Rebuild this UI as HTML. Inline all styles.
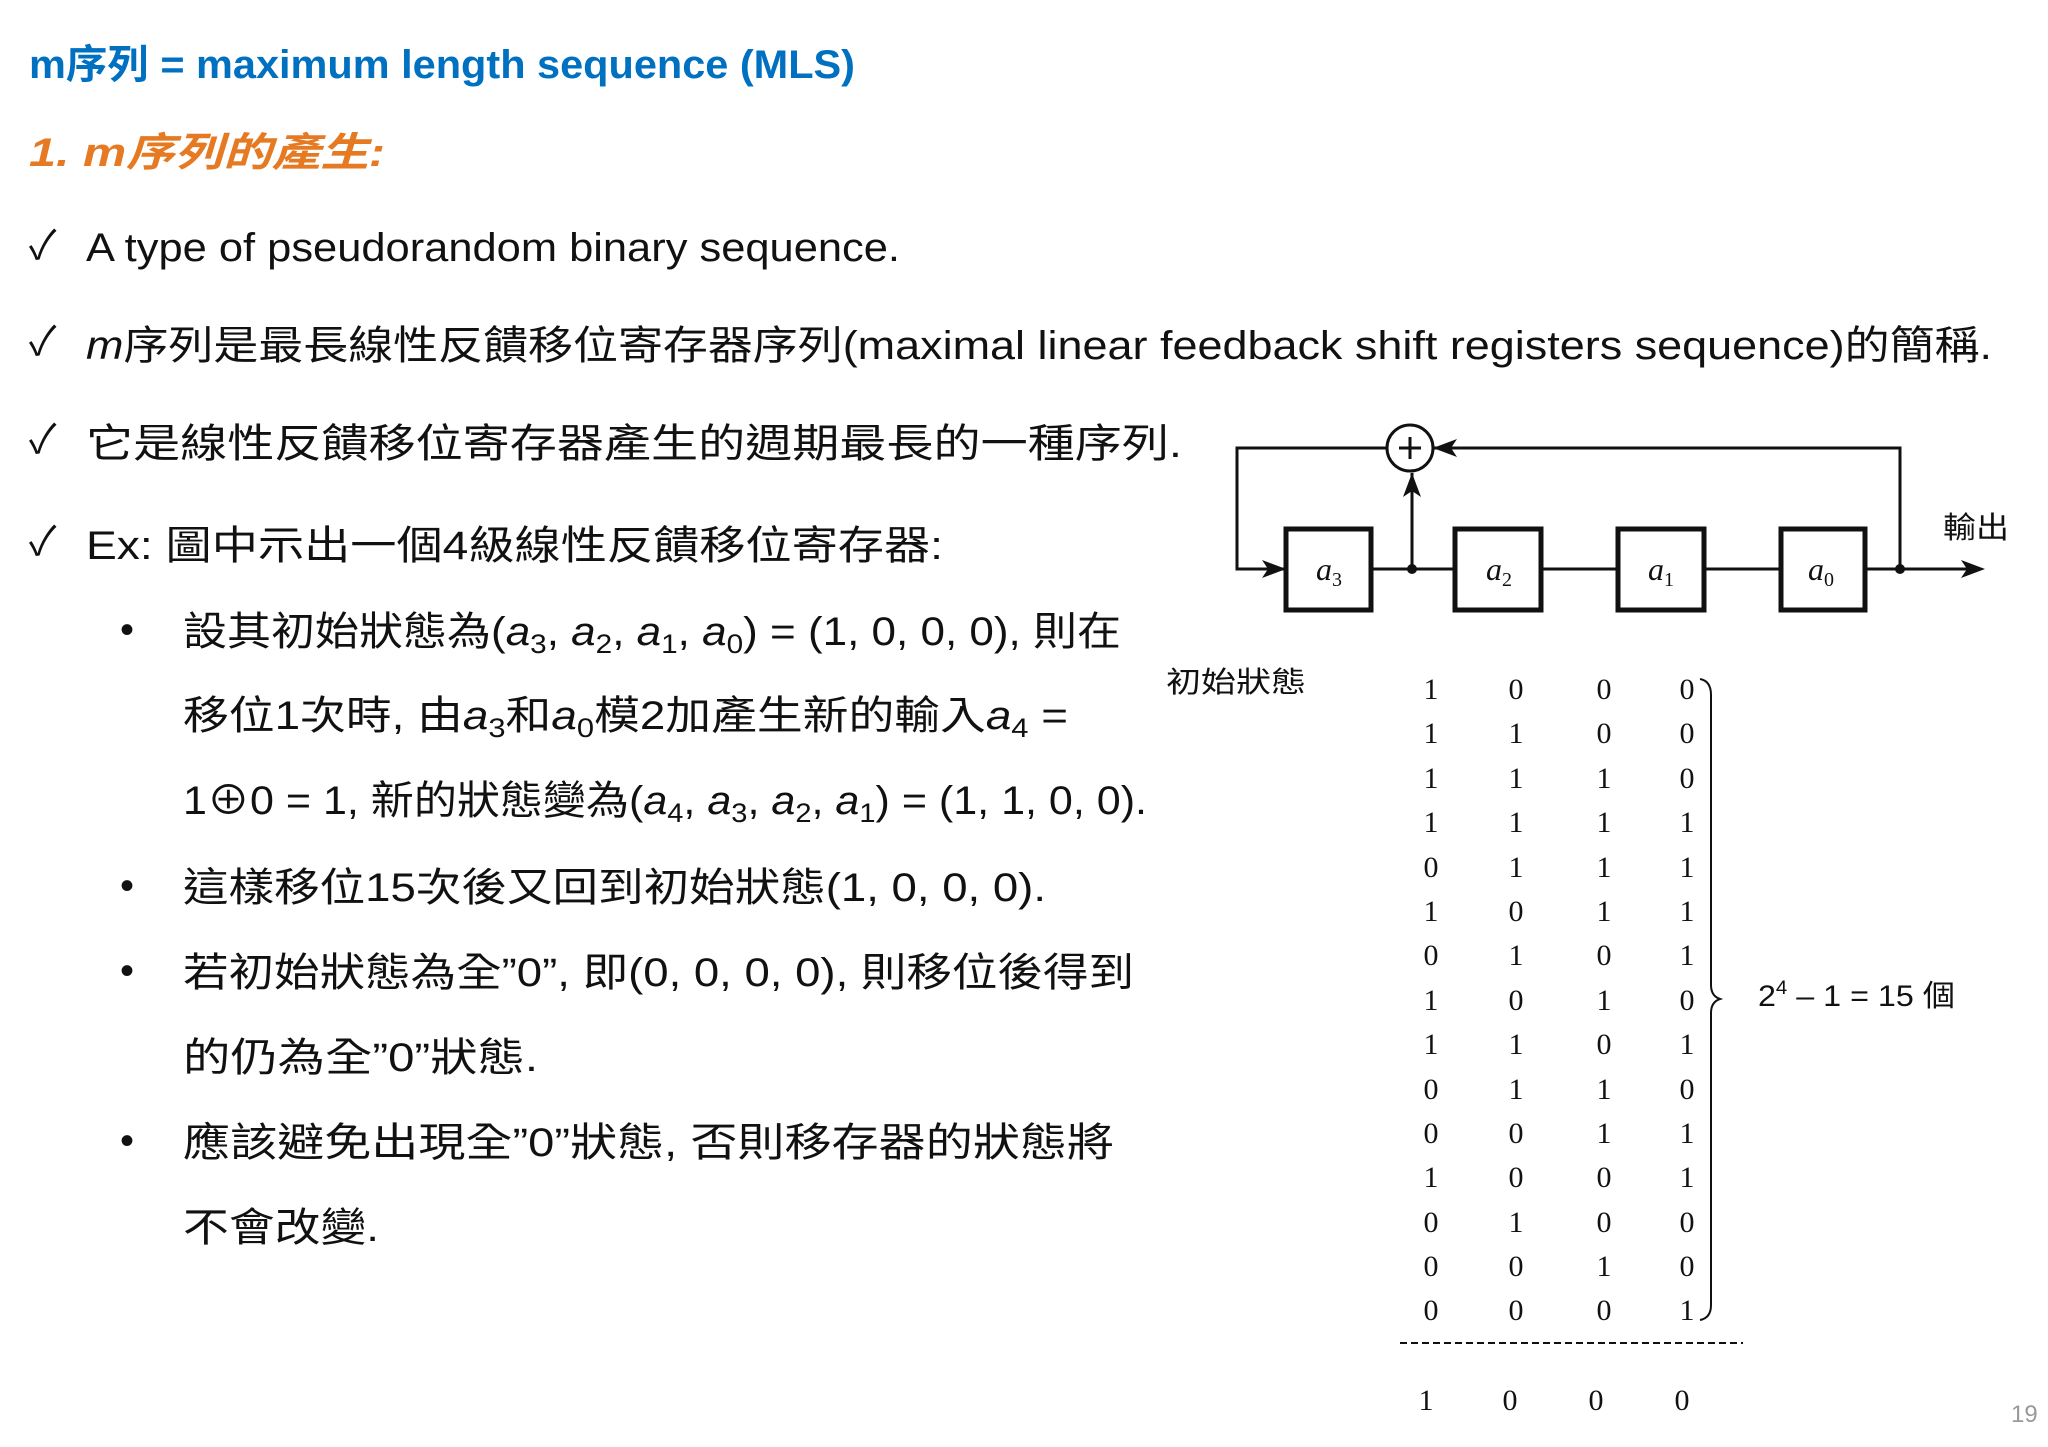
<!DOCTYPE html>
<html><head><meta charset="utf-8"><style>
html,body{margin:0;padding:0;background:#fff;}
svg{display:block}
.b{font-family:"Liberation Sans","Noto Sans CJK TC",sans-serif;font-size:40px;fill:#111}
.t{font-family:"Liberation Serif",serif;font-size:30px;fill:#111}
.i{font-style:italic}
</style></head><body>
<svg width="2048" height="1447" viewBox="0 0 2048 1447" xmlns="http://www.w3.org/2000/svg">
<rect width="2048" height="1447" fill="#fff"/>
<text x="29" y="78" class="b" style="fill:#0070c0;font-weight:bold" textLength="826" lengthAdjust="spacingAndGlyphs">m序列 = maximum length sequence (MLS)</text>
<text x="29" y="166" class="b" style="fill:#e67a22;font-weight:bold;font-style:italic" textLength="356" lengthAdjust="spacingAndGlyphs">1.  m序列的產生:</text>

<g class="b">
<text x="29" y="259">✓</text>
<text x="86" y="261" class="b" textLength="814" lengthAdjust="spacingAndGlyphs">A type of pseudorandom binary sequence.</text>
<text x="29" y="355">✓</text>
<text x="86" y="359" class="b" textLength="1906" lengthAdjust="spacingAndGlyphs"><tspan class="i">m</tspan>序列是最長線性反饋移位寄存器序列(maximal linear feedback shift registers sequence)的簡稱.</text>
<text x="29" y="453">✓</text>
<text x="86" y="457" class="b" textLength="1096" lengthAdjust="spacingAndGlyphs">它是線性反饋移位寄存器產生的週期最長的一種序列.</text>
<text x="29" y="555">✓</text>
<text x="86" y="559" class="b" textLength="857" lengthAdjust="spacingAndGlyphs">Ex: 圖中示出一個4級線性反饋移位寄存器:</text>

<text x="120" y="643">•</text>
<text x="183" y="645" class="b" textLength="938" lengthAdjust="spacingAndGlyphs">設其初始狀態為(<tspan class="i">a</tspan><tspan font-size="27" dy="8">3</tspan><tspan dy="-8">, </tspan><tspan class="i">a</tspan><tspan font-size="27" dy="8">2</tspan><tspan dy="-8">, </tspan><tspan class="i">a</tspan><tspan font-size="27" dy="8">1</tspan><tspan dy="-8">, </tspan><tspan class="i">a</tspan><tspan font-size="27" dy="8">0</tspan><tspan dy="-8">) = (1, 0, 0, 0), 則在</tspan></text>
<text x="183" y="729" class="b" textLength="885" lengthAdjust="spacingAndGlyphs">移位1次時, 由<tspan class="i">a</tspan><tspan font-size="27" dy="8">3</tspan><tspan dy="-8">和</tspan><tspan class="i">a</tspan><tspan font-size="27" dy="8">0</tspan><tspan dy="-8">模2加產生新的輸入</tspan><tspan class="i">a</tspan><tspan font-size="27" dy="8">4</tspan><tspan dy="-8"> =</tspan></text>
<text x="183" y="814" class="b" textLength="964" lengthAdjust="spacingAndGlyphs">1⊕0 = 1, 新的狀態變為(<tspan class="i">a</tspan><tspan font-size="27" dy="8">4</tspan><tspan dy="-8">, </tspan><tspan class="i">a</tspan><tspan font-size="27" dy="8">3</tspan><tspan dy="-8">, </tspan><tspan class="i">a</tspan><tspan font-size="27" dy="8">2</tspan><tspan dy="-8">, </tspan><tspan class="i">a</tspan><tspan font-size="27" dy="8">1</tspan><tspan dy="-8">) = (1, 1, 0, 0).</tspan></text>
<text x="120" y="899">•</text>
<text x="183" y="901" class="b" textLength="863" lengthAdjust="spacingAndGlyphs">這樣移位15次後又回到初始狀態(1, 0, 0, 0).</text>
<text x="120" y="984">•</text>
<text x="183" y="986" class="b" textLength="951" lengthAdjust="spacingAndGlyphs">若初始狀態為全”0”, 即(0, 0, 0, 0), 則移位後得到</text>
<text x="183" y="1071" class="b" textLength="355" lengthAdjust="spacingAndGlyphs">的仍為全”0”狀態.</text>
<text x="120" y="1154">•</text>
<text x="183" y="1156" class="b" textLength="931" lengthAdjust="spacingAndGlyphs">應該避免出現全”0”狀態, 否則移存器的狀態將</text>
<text x="183" y="1241" class="b" textLength="196" lengthAdjust="spacingAndGlyphs">不會改變.</text>
</g>

<!-- diagram -->
<g stroke="#111" stroke-width="3" fill="none">
<polyline points="1286,569 1237,569 1237,448 1387,448"/>
<polyline points="1433,448 1900,448 1900,569"/>
<line x1="1371" y1="569" x2="1455" y2="569"/>
<line x1="1541" y1="569" x2="1618" y2="569"/>
<line x1="1704" y1="569" x2="1781" y2="569"/>
<line x1="1865" y1="569" x2="1975" y2="569"/>
<line x1="1412" y1="569" x2="1412" y2="473"/>
<circle cx="1410" cy="448" r="23"/>
<line x1="1399" y1="448" x2="1421" y2="448"/>
<line x1="1410" y1="437" x2="1410" y2="459"/>
<rect x="1286" y="529" width="85" height="81" stroke-width="5"/>
<rect x="1455" y="529" width="86" height="81" stroke-width="5"/>
<rect x="1618" y="529" width="86" height="81" stroke-width="5"/>
<rect x="1781" y="529" width="84" height="81" stroke-width="5"/>
</g>
<g fill="#111">
<polygon points="1286,569 1262,560 1268,569 1262,578"/>
<polygon points="1433,448 1457,439 1451,448 1457,457"/>
<polygon points="1412,473 1403,497 1412,491 1421,497"/>
<polygon points="1985,569 1961,560 1967,569 1961,578"/>
<circle cx="1412" cy="569" r="5"/>
<circle cx="1900" cy="569" r="5"/>
</g>
<g class="t" style="font-size:32px">
<text x="1316" y="580"><tspan class="i">a</tspan><tspan font-size="20" dy="6">3</tspan></text>
<text x="1486" y="580"><tspan class="i">a</tspan><tspan font-size="20" dy="6">2</tspan></text>
<text x="1648" y="580"><tspan class="i">a</tspan><tspan font-size="20" dy="6">1</tspan></text>
<text x="1808" y="580"><tspan class="i">a</tspan><tspan font-size="20" dy="6">0</tspan></text>
</g>
<text x="1943" y="538" class="b" style="font-size:30px" textLength="66" lengthAdjust="spacingAndGlyphs">輸出</text>

<!-- table -->
<text x="1166" y="692" class="b" style="font-size:29px" textLength="140" lengthAdjust="spacingAndGlyphs">初始狀態</text>
<g class="t" text-anchor="middle">
<text y="699"><tspan x="1431">1</tspan><tspan x="1516">0</tspan><tspan x="1604">0</tspan><tspan x="1687">0</tspan></text>
<text y="743"><tspan x="1431">1</tspan><tspan x="1516">1</tspan><tspan x="1604">0</tspan><tspan x="1687">0</tspan></text>
<text y="788"><tspan x="1431">1</tspan><tspan x="1516">1</tspan><tspan x="1604">1</tspan><tspan x="1687">0</tspan></text>
<text y="832"><tspan x="1431">1</tspan><tspan x="1516">1</tspan><tspan x="1604">1</tspan><tspan x="1687">1</tspan></text>
<text y="877"><tspan x="1431">0</tspan><tspan x="1516">1</tspan><tspan x="1604">1</tspan><tspan x="1687">1</tspan></text>
<text y="921"><tspan x="1431">1</tspan><tspan x="1516">0</tspan><tspan x="1604">1</tspan><tspan x="1687">1</tspan></text>
<text y="965"><tspan x="1431">0</tspan><tspan x="1516">1</tspan><tspan x="1604">0</tspan><tspan x="1687">1</tspan></text>
<text y="1010"><tspan x="1431">1</tspan><tspan x="1516">0</tspan><tspan x="1604">1</tspan><tspan x="1687">0</tspan></text>
<text y="1054"><tspan x="1431">1</tspan><tspan x="1516">1</tspan><tspan x="1604">0</tspan><tspan x="1687">1</tspan></text>
<text y="1099"><tspan x="1431">0</tspan><tspan x="1516">1</tspan><tspan x="1604">1</tspan><tspan x="1687">0</tspan></text>
<text y="1143"><tspan x="1431">0</tspan><tspan x="1516">0</tspan><tspan x="1604">1</tspan><tspan x="1687">1</tspan></text>
<text y="1187"><tspan x="1431">1</tspan><tspan x="1516">0</tspan><tspan x="1604">0</tspan><tspan x="1687">1</tspan></text>
<text y="1232"><tspan x="1431">0</tspan><tspan x="1516">1</tspan><tspan x="1604">0</tspan><tspan x="1687">0</tspan></text>
<text y="1276"><tspan x="1431">0</tspan><tspan x="1516">0</tspan><tspan x="1604">1</tspan><tspan x="1687">0</tspan></text>
<text y="1320"><tspan x="1431">0</tspan><tspan x="1516">0</tspan><tspan x="1604">0</tspan><tspan x="1687">1</tspan></text>
<text y="1410"><tspan x="1426">1</tspan><tspan x="1510">0</tspan><tspan x="1596">0</tspan><tspan x="1682">0</tspan></text>
</g>
<path d="M1700,679 Q1711,681 1711,695 L1711,985 Q1711,996 1720,999 Q1711,1002 1711,1013 L1711,1305 Q1711,1318 1700,1320" stroke="#111" stroke-width="2" fill="none"/>
<line x1="1400" y1="1343" x2="1743" y2="1343" stroke="#111" stroke-width="2" stroke-dasharray="7,4"/>
<text x="1758" y="1006" class="b" style="font-size:30px" textLength="197" lengthAdjust="spacingAndGlyphs">2<tspan font-size="19" dy="-12">4</tspan><tspan dy="12"> – 1 = 15 個</tspan></text>
<text x="2011" y="1422" class="b" style="font-size:24px;fill:#999">19</text>
</svg>
</body></html>
